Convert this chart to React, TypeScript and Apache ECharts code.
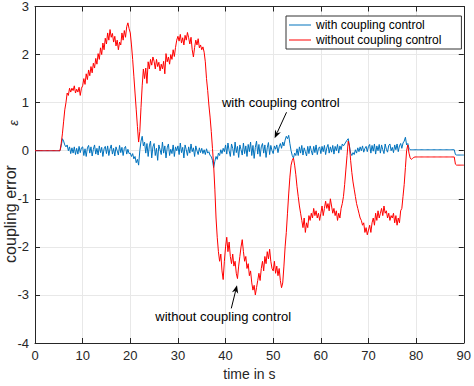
import React, { useEffect, useRef } from "react";
import * as echarts from "echarts";

// ---- data ----
const T_START = 0; // s
const T_STEP = 0.25; // s between samples
const X_MIN = 0;
const X_MAX = 90;
const X_INTERVAL = 10;
const Y_MIN = -4;
const Y_MAX = 3;
const Y_INTERVAL = 1;

const seriesNames = ["with coupling control", "without coupling control"];

// coupling error with coupling control, one sample every 0.25 s from t = 0 to t = 90
const withCoupling = [
  0, 0, 0, 0, 0, 0, 0, 0, 0, 0, 0, 0, 0, 0, 0, 0, 0, 0, 0, 0,
  0, 0, 0.1, 0.25, 0.2, 0.12, 0.08, 0.12, 0.0, 0.08, -0.06, 0.06, -0.05, 0.08, -0.08, 0.05, -0.07, 0.09, -0.04, 0.06,
  0.08, -0.1, 0.04, -0.12, 0.06, 0.11, -0.05, 0.08, -0.11, 0.03, 0.12, -0.07, 0.05, -0.09, 0.1, -0.04, 0.07, -0.12, 0.04, 0.09,
  -0.06, 0.1, -0.1, 0.04, 0.12, -0.07, 0.05, -0.11, 0.08, 0.0, -0.09, 0.11, -0.04, 0.07, -0.1, 0.05, 0.09, -0.07, 0.03, -0.06,
  -0.05, -0.12, -0.06, -0.17, -0.12, -0.25, -0.18, -0.3, 0.0, 0.2, 0.3, 0.1, 0.18, -0.05, 0.15, -0.12, 0.1, 0.2, -0.15, 0.08,
  0.15, -0.1, 0.05, -0.2, 0.12, 0.02, -0.08, 0.18, -0.05, 0.1, -0.15, 0.06, 0.14, -0.1, 0.03, -0.06, 0.12, -0.12, 0.08, 0.0,
  0.1, -0.08, 0.16, -0.04, 0.07, -0.15, 0.12, 0.02, -0.1, 0.08, -0.05, 0.14, -0.02, 0.06, -0.12, 0.1, 0.0, -0.08, 0.06, -0.04,
  0.05, -0.06, 0.02, -0.08, 0.04, -0.05, -0.02, -0.1, -0.12, -0.2, -0.35, -0.22, -0.12, -0.18, -0.05, -0.1, 0.02, -0.06, 0.05, -0.02,
  0.12, -0.07, 0.16, 0.0, -0.12, 0.14, 0.05, -0.1, 0.18, -0.04, 0.09, -0.14, 0.12, 0.02, -0.09, 0.16, -0.06, 0.1, -0.12, 0.13,
  -0.02, 0.18, -0.1, 0.11, -0.16, 0.07, 0.2, -0.07, 0.13, -0.12, 0.08, 0.15, -0.05, 0.12, -0.14, 0.06, 0.17, -0.08, 0.11, 0.0,
  -0.06, 0.1, 0.03, 0.12, -0.04, 0.08, 0.15, 0.05, 0.18, 0.1, 0.22, 0.3, 0.25, 0.32, 0.15, 0.0, -0.1, -0.15, -0.05, -0.1,
  0.04, -0.1, 0.08, -0.05, 0.11, -0.09, 0.06, -0.02, -0.11, 0.09, -0.06, 0.1, 0.0, -0.09, 0.09, -0.04, 0.12, -0.08, 0.05, 0.08,
  -0.06, 0.09, -0.02, 0.11, -0.08, 0.06, 0.13, -0.05, 0.08, -0.03, 0.11, -0.07, 0.09, 0.0, 0.13, -0.05, 0.1, 0.02, 0.14, 0.1,
  0.14, 0.18, 0.22, 0.25, 0.1, -0.05, -0.1, -0.04, -0.08, 0.02, -0.05, 0.06, -0.02, 0.08, 0.0, 0.1, -0.03, 0.05, 0.09, -0.02,
  0.09, 0.13, -0.05, 0.11, -0.01, 0.14, -0.07, 0.1, 0.0, 0.13, -0.05, 0.12, 0.02, -0.06, 0.14, 0.03, -0.03, 0.11, 0.14, 0.0,
  0.07, -0.04, 0.12, 0.02, 0.14, -0.02, 0.1, 0.15, 0.05, 0.16, 0.2, 0.28, 0.12, 0.15, 0.05, 0.02, 0.02, 0.02, 0.02, 0.02,
  0.02, 0.02, 0.02, 0.02, 0.02, 0.02, 0.02, 0.02, 0.02, 0.02, 0.02, 0.02, 0.02, 0.02, 0.02, 0.02, 0.02, 0.02, 0.02, 0.02,
  0.02, 0.02, 0.02, 0.02, 0.02, 0.02, 0.02, 0.02, 0.02, 0.02, 0.02, 0.02, 0.02, -0.08, -0.09, -0.09, -0.09, -0.09, -0.09, -0.09,
  -0.09,
];

// coupling error without coupling control, same time base
const withoutCoupling = [
  0, 0, 0, 0, 0, 0, 0, 0, 0, 0, 0, 0, 0, 0, 0, 0, 0, 0, 0, 0,
  0, 0, 0.15, 0.35, 0.6, 0.85, 1.0, 1.2, 1.15, 1.3, 1.22, 1.3, 1.25, 1.35, 1.2, 1.28, 1.22, 1.32, 1.15, 1.3,
  1.35, 1.5, 1.38, 1.6, 1.48, 1.68, 1.56, 1.75, 1.62, 1.82, 1.72, 1.92, 1.8, 2.02, 1.9, 2.14, 2.0, 2.24, 2.1, 2.34,
  2.22, 2.45, 2.3, 2.52, 2.36, 2.44, 2.26, 2.38, 2.18, 2.3, 2.1, 2.26, 2.2, 2.45, 2.3, 2.5, 2.36, 2.58, 2.66, 2.54,
  2.45, 2.2, 1.9, 1.55, 1.2, 0.85, 0.5, 0.18, 0.4, 0.9, 1.35, 1.7, 1.5, 1.72, 1.4, 1.85, 1.7, 1.9, 1.78, 1.95,
  1.86, 1.7, 1.9, 1.75, 1.84, 1.66, 1.8, 1.7, 1.86, 1.6, 2.02, 1.85, 1.95, 1.8, 2.0, 1.9, 2.1, 1.96, 2.15, 2.3,
  2.38, 2.28, 2.42, 2.24, 2.35, 2.2, 2.4, 2.3, 2.46, 2.35, 2.22, 2.36, 2.1, 1.95, 2.15, 2.3, 2.2, 2.33, 2.14, 2.2,
  2.1, 2.16, 2.05, 1.85, 1.5, 1.25, 0.95, 0.7, 0.4, 0.05, -0.3, -0.8, -1.4, -1.8, -2.1, -2.3, -2.15, -2.5, -2.68, -2.3,
  -2.0, -1.8, -2.1, -1.9, -2.2, -2.35, -2.15, -2.4, -2.3, -2.55, -2.66, -2.4, -2.2, -2.0, -1.85, -2.1, -2.3, -2.2, -2.45, -2.35,
  -2.6, -2.5, -2.75, -2.9, -2.8, -3.0, -2.85, -2.7, -2.55, -2.7, -2.45, -2.3, -2.5, -2.2, -2.35, -2.1, -2.25, -2.05, -2.3, -2.45,
  -2.5, -2.3, -2.55, -2.4, -2.6, -2.45, -2.7, -2.85, -2.75, -2.4, -2.0, -1.7, -1.3, -0.9, -0.55, -0.3, -0.2, -0.15, -0.3, -0.5,
  -0.75, -0.95, -1.15, -1.3, -1.45, -1.6, -1.4, -1.7, -1.5, -1.6, -1.35, -1.45, -1.3, -1.4, -1.2, -1.35, -1.25, -1.4, -1.3, -1.45,
  -1.3, -1.15, -1.35, -1.2, -1.05, -1.2, -1.1, -1.25, -1.0, -1.15, -1.3, -1.2, -1.35, -1.25, -1.45, -1.3, -1.4, -1.2, -1.1, -0.95,
  -0.7, -0.4, -0.1, 0.2, 0.1, -0.2, -0.45, -0.65, -0.8, -0.95, -1.1, -1.2, -1.3, -1.4, -1.45, -1.55, -1.5, -1.7, -1.6, -1.75,
  -1.65, -1.55, -1.7, -1.5, -1.4, -1.55, -1.3, -1.45, -1.25, -1.4, -1.3, -1.2, -1.35, -1.15, -1.3, -1.25, -1.4, -1.3, -1.45, -1.35,
  -1.4, -1.3, -1.5, -1.35, -1.55, -1.4, -1.5, -1.25, -1.2, -0.95, -0.7, -0.35, 0.0, 0.12, -0.05, -0.15, -0.18, -0.16, -0.14, -0.13,
  -0.13, -0.13, -0.13, -0.13, -0.13, -0.13, -0.13, -0.13, -0.13, -0.13, -0.13, -0.13, -0.13, -0.13, -0.13, -0.13, -0.13, -0.13, -0.13, -0.13,
  -0.13, -0.13, -0.13, -0.13, -0.13, -0.13, -0.13, -0.13, -0.13, -0.13, -0.13, -0.13, -0.13, -0.28, -0.3, -0.3, -0.3, -0.3, -0.3, -0.3,
  -0.3,
];

// annotations in data coordinates [time, error]
const annotationTexts = ["with coupling control", "without coupling control"];
const annotationTextAt = [
  [51.6, 1.0],
  [39.5, -3.44],
];
const annotationTail = [
  [52.8, 0.8],
  [41.2, -3.28],
];
const annotationHead = [
  [50.3, 0.26],
  [42.4, -2.8],
];

const FONT = "'Liberation Sans', Arial, Helvetica, sans-serif";
const AXIS_COLOR = "#262626";

function toPairs(values: number[]) {
  return values.map((v, i) => [T_START + i * T_STEP, v]);
}

export default function App() {
  const ref = useRef<HTMLDivElement>(null);

  useEffect(() => {
    if (!ref.current) return;
    const chart = echarts.init(ref.current, null, { renderer: "svg" });

    const axisCommon = {
      axisLine: { show: true, onZero: false, lineStyle: { color: AXIS_COLOR, width: 1 } },
      axisTick: { show: true, inside: true, length: 5, lineStyle: { color: AXIS_COLOR, width: 1 } },
    };

    chart.setOption({
      animation: false,
      backgroundColor: "#ffffff",
      grid: { left: 35, right: 6, top: 6, bottom: 39, containLabel: false },
      legend: {
        orient: "vertical",
        left: 286,
        top: 16,
        data: seriesNames,
        icon: "rect",
        itemWidth: 22,
        itemHeight: 1,
        itemGap: 1,
        itemTextGap: 3,
        padding: [2, 20, 2, 3],
        backgroundColor: "#ffffff",
        borderColor: "#333333",
        borderWidth: 1,
        borderRadius: 0,
        textStyle: { fontSize: 12, fontFamily: FONT, color: "#000000", lineHeight: 14 },
      },
      xAxis: [
        {
          type: "value",
          min: X_MIN,
          max: X_MAX,
          interval: X_INTERVAL,
          position: "bottom",
          ...axisCommon,
          axisLabel: { color: AXIS_COLOR, fontSize: 13, fontFamily: FONT, margin: 6 },
          splitLine: { show: true, lineStyle: { color: "#e8e8e8", width: 1 } },
          name: "time in s",
          nameLocation: "middle",
          nameGap: 24,
          nameTextStyle: { fontSize: 14, fontFamily: FONT, color: AXIS_COLOR },
        },
        {
          type: "value",
          min: X_MIN,
          max: X_MAX,
          interval: X_INTERVAL,
          position: "top",
          ...axisCommon,
          axisLabel: { show: false },
          splitLine: { show: false },
        },
      ],
      yAxis: [
        {
          type: "value",
          min: Y_MIN,
          max: Y_MAX,
          interval: Y_INTERVAL,
          position: "left",
          ...axisCommon,
          axisLabel: { color: AXIS_COLOR, fontSize: 13, fontFamily: FONT, margin: 6 },
          splitLine: { show: true, lineStyle: { color: "#e8e8e8", width: 1 } },
        },
        {
          type: "value",
          min: Y_MIN,
          max: Y_MAX,
          interval: Y_INTERVAL,
          position: "right",
          ...axisCommon,
          axisLabel: { show: false },
          splitLine: { show: false },
        },
      ],
      series: [
        {
          name: seriesNames[0],
          type: "line",
          xAxisIndex: 0,
          yAxisIndex: 0,
          data: toPairs(withCoupling),
          showSymbol: false,
          symbol: "none",
          color: "#0072BD",
          lineStyle: { color: "#0072BD", width: 1 },
          z: 2,
        },
        {
          name: seriesNames[1],
          type: "line",
          xAxisIndex: 0,
          yAxisIndex: 0,
          data: toPairs(withoutCoupling),
          showSymbol: false,
          symbol: "none",
          color: "#FF0000",
          lineStyle: { color: "#FF0000", width: 1 },
          z: 3,
        },
      ],
    });

    // annotations and y-axis label
    const graphics: any[] = [];
    annotationTexts.forEach((txt, i) => {
      const p = chart.convertToPixel({ gridIndex: 0 }, annotationTextAt[i]) as number[];
      const tail = chart.convertToPixel({ gridIndex: 0 }, annotationTail[i]) as number[];
      const head = chart.convertToPixel({ gridIndex: 0 }, annotationHead[i]) as number[];
      const dx = head[0] - tail[0];
      const dy = head[1] - tail[1];
      const len = Math.sqrt(dx * dx + dy * dy) || 1;
      const ux = dx / len;
      const uy = dy / len;
      const L = 8;
      const W = 3.2;
      const bx = head[0] - ux * L;
      const by = head[1] - uy * L;
      graphics.push({
        type: "text",
        x: p[0],
        y: p[1],
        z: 100,
        style: {
          text: txt,
          fill: "#000000",
          font: `13px ${FONT}`,
          textAlign: "center",
          textVerticalAlign: "middle",
        },
      });
      graphics.push({
        type: "line",
        z: 100,
        shape: { x1: tail[0], y1: tail[1], x2: bx + ux * 2, y2: by + uy * 2 },
        style: { stroke: "#000000", lineWidth: 1 },
      });
      graphics.push({
        type: "polygon",
        z: 100,
        shape: {
          points: [
            [head[0], head[1]],
            [bx - uy * W, by + ux * W],
            [bx + ux * 2.5, by + uy * 2.5],
            [bx + uy * W, by - ux * W],
          ],
        },
        style: { fill: "#000000" },
      });
    });
    graphics.push({
      type: "text",
      x: 10,
      y: 214,
      rotation: Math.PI / 2,
      z: 100,
      style: {
        text: "coupling error",
        fill: AXIS_COLOR,
        font: `16px ${FONT}`,
        textAlign: "center",
        textVerticalAlign: "middle",
      },
    });
    graphics.push({
      type: "text",
      x: 13,
      y: 123,
      rotation: Math.PI / 2,
      z: 100,
      style: {
        text: "ε",
        fill: AXIS_COLOR,
        font: `italic 13px ${FONT}`,
        textAlign: "center",
        textVerticalAlign: "middle",
      },
    });
    chart.setOption({ graphic: graphics });

    return () => {
      chart.dispose();
    };
  }, []);

  return (
    <div
      ref={ref}
      style={{ position: "fixed", left: 0, top: 0, width: 474, height: 386, background: "#ffffff" }}
    />
  );
}
